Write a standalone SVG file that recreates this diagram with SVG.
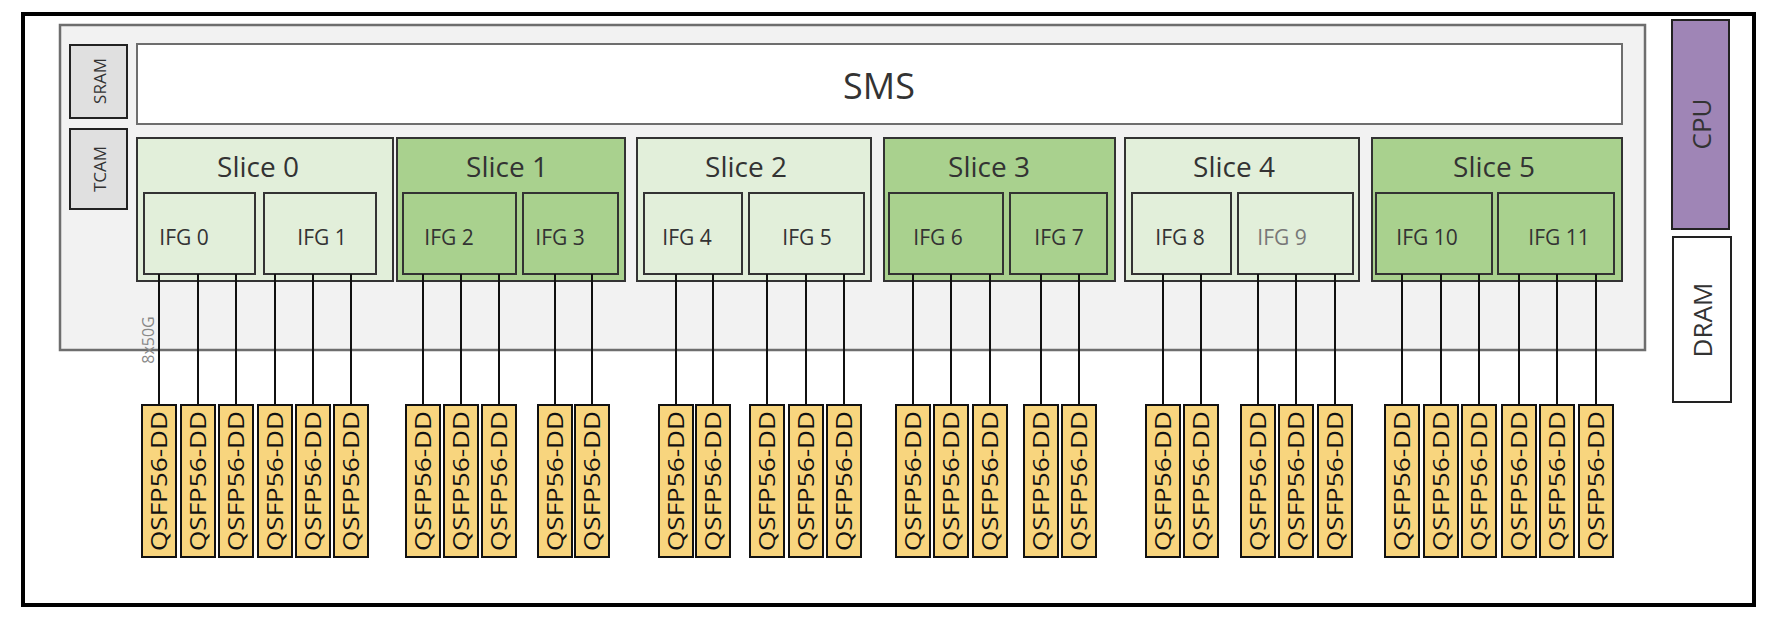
<svg xmlns="http://www.w3.org/2000/svg" width="1772" height="620" viewBox="0 0 1772 620">
<style>
text{font-family:"Open Sans","Noto Sans",sans-serif;fill:#333;text-anchor:middle;dominant-baseline:central}
.lt{fill:#e2efda;stroke:#333;stroke-width:2}
.dk{fill:#a9d18e;stroke:#333;stroke-width:2}
.q{fill:#f8d57e;stroke:#111;stroke-width:2}
.qt{font-size:21px;fill:#111}
.sl{font-size:28px}
.ifg{font-size:21px}
#conn line{stroke:#111;stroke-width:2}
</style>
<rect x="23" y="14" width="1731" height="591" fill="#fff" stroke="#000" stroke-width="4"/>
<g id="asic"><rect x="60" y="25" width="1585" height="325" fill="#f2f2f2" stroke="#6e6e6e" stroke-width="2.5"/></g>
<g id="sram"><rect x="70" y="45" width="57" height="73" fill="#e0e0e0" stroke="#222" stroke-width="2"/><text transform="translate(99,81) rotate(-90)" font-size="17">SRAM</text></g>
<g id="tcam"><rect x="70" y="129" width="57" height="80" fill="#e0e0e0" stroke="#222" stroke-width="2"/><text transform="translate(99,169) rotate(-90)" font-size="17">TCAM</text></g>
<g id="sms"><rect x="137" y="44" width="1485" height="80" fill="#fff" stroke="#6e6e6e" stroke-width="2"/><text x="879" y="85" font-size="36">SMS</text></g>
<g id="slice0"><rect class="lt" x="137" y="138" width="256" height="143"/><text class="sl" x="258" y="166">Slice 0</text></g>
<g id="slice1"><rect class="dk" x="397" y="138" width="228" height="143"/><text class="sl" x="507" y="166">Slice 1</text></g>
<g id="slice2"><rect class="lt" x="637" y="138" width="234" height="143"/><text class="sl" x="746" y="166">Slice 2</text></g>
<g id="slice3"><rect class="dk" x="884" y="138" width="231" height="143"/><text class="sl" x="989" y="166">Slice 3</text></g>
<g id="slice4"><rect class="lt" x="1125" y="138" width="234" height="143"/><text class="sl" x="1234" y="166">Slice 4</text></g>
<g id="slice5"><rect class="dk" x="1372" y="138" width="250" height="143"/><text class="sl" x="1494" y="166">Slice 5</text></g>
<g id="ifg0"><rect class="lt" x="144" y="193" width="111" height="81"/><text class="ifg" x="184" y="237">IFG 0</text></g>
<g id="ifg1"><rect class="lt" x="264" y="193" width="112" height="81"/><text class="ifg" x="322" y="237">IFG 1</text></g>
<g id="ifg2"><rect class="dk" x="403" y="193" width="113" height="81"/><text class="ifg" x="449" y="237">IFG 2</text></g>
<g id="ifg3"><rect class="dk" x="523" y="193" width="95" height="81"/><text class="ifg" x="560" y="237">IFG 3</text></g>
<g id="ifg4"><rect class="lt" x="644" y="193" width="98" height="81"/><text class="ifg" x="687" y="237">IFG 4</text></g>
<g id="ifg5"><rect class="lt" x="749" y="193" width="115" height="81"/><text class="ifg" x="807" y="237">IFG 5</text></g>
<g id="ifg6"><rect class="dk" x="889" y="193" width="114" height="81"/><text class="ifg" x="938" y="237">IFG 6</text></g>
<g id="ifg7"><rect class="dk" x="1010" y="193" width="97" height="81"/><text class="ifg" x="1059" y="237">IFG 7</text></g>
<g id="ifg8"><rect class="lt" x="1132" y="193" width="99" height="81"/><text class="ifg" x="1180" y="237">IFG 8</text></g>
<g id="ifg9"><rect class="lt" x="1238" y="193" width="115" height="81"/><text class="ifg" x="1282" y="237" style="fill:#777">IFG 9</text></g>
<g id="ifg10"><rect class="dk" x="1376" y="193" width="116" height="81"/><text class="ifg" x="1427" y="237">IFG 10</text></g>
<g id="ifg11"><rect class="dk" x="1498" y="193" width="116" height="81"/><text class="ifg" x="1559" y="237">IFG 11</text></g>
<g id="cpu"><rect x="1672" y="20" width="57" height="209" fill="#9f85b6" stroke="#222" stroke-width="2"/><text transform="translate(1701,124) rotate(-90)" font-size="26">CPU</text></g>
<g id="dram"><rect x="1673" y="237" width="58" height="165" fill="#fff" stroke="#222" stroke-width="2"/><text transform="translate(1702,320) rotate(-90)" font-size="26">DRAM</text></g>
<text transform="translate(148,340) rotate(-90)" font-size="16" style="fill:#888">8x50G</text>
<g id="conn">
<line x1="159" y1="274" x2="159" y2="405"/><line x1="198" y1="274" x2="198" y2="405"/><line x1="236" y1="274" x2="236" y2="405"/>
<line x1="275" y1="274" x2="275" y2="405"/><line x1="313" y1="274" x2="313" y2="405"/><line x1="351" y1="274" x2="351" y2="405"/>
<line x1="423" y1="274" x2="423" y2="405"/><line x1="461" y1="274" x2="461" y2="405"/><line x1="499" y1="274" x2="499" y2="405"/>
<line x1="555" y1="274" x2="555" y2="405"/><line x1="592" y1="274" x2="592" y2="405"/>
<line x1="676" y1="274" x2="676" y2="405"/><line x1="713" y1="274" x2="713" y2="405"/>
<line x1="767" y1="274" x2="767" y2="405"/><line x1="806" y1="274" x2="806" y2="405"/><line x1="844" y1="274" x2="844" y2="405"/>
<line x1="913" y1="274" x2="913" y2="405"/><line x1="951" y1="274" x2="951" y2="405"/><line x1="990" y1="274" x2="990" y2="405"/>
<line x1="1041" y1="274" x2="1041" y2="405"/><line x1="1079" y1="274" x2="1079" y2="405"/>
<line x1="1163" y1="274" x2="1163" y2="405"/><line x1="1201" y1="274" x2="1201" y2="405"/>
<line x1="1258" y1="274" x2="1258" y2="405"/><line x1="1296" y1="274" x2="1296" y2="405"/><line x1="1335" y1="274" x2="1335" y2="405"/>
<line x1="1402" y1="274" x2="1402" y2="405"/><line x1="1441" y1="274" x2="1441" y2="405"/><line x1="1479" y1="274" x2="1479" y2="405"/>
<line x1="1519" y1="274" x2="1519" y2="405"/><line x1="1557" y1="274" x2="1557" y2="405"/><line x1="1596" y1="274" x2="1596" y2="405"/>
</g>
<g id="qsfp">
<g id="q1"><rect class="q" x="142" y="405" width="34" height="152"/><text class="qt" transform="translate(159,481) rotate(-90)" textLength="140" lengthAdjust="spacingAndGlyphs">QSFP56-DD</text></g>
<g id="q2"><rect class="q" x="181" y="405" width="34" height="152"/><text class="qt" transform="translate(198,481) rotate(-90)" textLength="140" lengthAdjust="spacingAndGlyphs">QSFP56-DD</text></g>
<g id="q3"><rect class="q" x="219" y="405" width="34" height="152"/><text class="qt" transform="translate(236,481) rotate(-90)" textLength="140" lengthAdjust="spacingAndGlyphs">QSFP56-DD</text></g>
<g id="q4"><rect class="q" x="258" y="405" width="34" height="152"/><text class="qt" transform="translate(275,481) rotate(-90)" textLength="140" lengthAdjust="spacingAndGlyphs">QSFP56-DD</text></g>
<g id="q5"><rect class="q" x="296" y="405" width="34" height="152"/><text class="qt" transform="translate(313,481) rotate(-90)" textLength="140" lengthAdjust="spacingAndGlyphs">QSFP56-DD</text></g>
<g id="q6"><rect class="q" x="334" y="405" width="34" height="152"/><text class="qt" transform="translate(351,481) rotate(-90)" textLength="140" lengthAdjust="spacingAndGlyphs">QSFP56-DD</text></g>
<g id="q7"><rect class="q" x="406" y="405" width="34" height="152"/><text class="qt" transform="translate(423,481) rotate(-90)" textLength="140" lengthAdjust="spacingAndGlyphs">QSFP56-DD</text></g>
<g id="q8"><rect class="q" x="444" y="405" width="34" height="152"/><text class="qt" transform="translate(461,481) rotate(-90)" textLength="140" lengthAdjust="spacingAndGlyphs">QSFP56-DD</text></g>
<g id="q9"><rect class="q" x="482" y="405" width="34" height="152"/><text class="qt" transform="translate(499,481) rotate(-90)" textLength="140" lengthAdjust="spacingAndGlyphs">QSFP56-DD</text></g>
<g id="q10"><rect class="q" x="538" y="405" width="34" height="152"/><text class="qt" transform="translate(555,481) rotate(-90)" textLength="140" lengthAdjust="spacingAndGlyphs">QSFP56-DD</text></g>
<g id="q11"><rect class="q" x="575" y="405" width="34" height="152"/><text class="qt" transform="translate(592,481) rotate(-90)" textLength="140" lengthAdjust="spacingAndGlyphs">QSFP56-DD</text></g>
<g id="q12"><rect class="q" x="659" y="405" width="34" height="152"/><text class="qt" transform="translate(676,481) rotate(-90)" textLength="140" lengthAdjust="spacingAndGlyphs">QSFP56-DD</text></g>
<g id="q13"><rect class="q" x="696" y="405" width="34" height="152"/><text class="qt" transform="translate(713,481) rotate(-90)" textLength="140" lengthAdjust="spacingAndGlyphs">QSFP56-DD</text></g>
<g id="q14"><rect class="q" x="750" y="405" width="34" height="152"/><text class="qt" transform="translate(767,481) rotate(-90)" textLength="140" lengthAdjust="spacingAndGlyphs">QSFP56-DD</text></g>
<g id="q15"><rect class="q" x="789" y="405" width="34" height="152"/><text class="qt" transform="translate(806,481) rotate(-90)" textLength="140" lengthAdjust="spacingAndGlyphs">QSFP56-DD</text></g>
<g id="q16"><rect class="q" x="827" y="405" width="34" height="152"/><text class="qt" transform="translate(844,481) rotate(-90)" textLength="140" lengthAdjust="spacingAndGlyphs">QSFP56-DD</text></g>
<g id="q17"><rect class="q" x="896" y="405" width="34" height="152"/><text class="qt" transform="translate(913,481) rotate(-90)" textLength="140" lengthAdjust="spacingAndGlyphs">QSFP56-DD</text></g>
<g id="q18"><rect class="q" x="934" y="405" width="34" height="152"/><text class="qt" transform="translate(951,481) rotate(-90)" textLength="140" lengthAdjust="spacingAndGlyphs">QSFP56-DD</text></g>
<g id="q19"><rect class="q" x="973" y="405" width="34" height="152"/><text class="qt" transform="translate(990,481) rotate(-90)" textLength="140" lengthAdjust="spacingAndGlyphs">QSFP56-DD</text></g>
<g id="q20"><rect class="q" x="1024" y="405" width="34" height="152"/><text class="qt" transform="translate(1041,481) rotate(-90)" textLength="140" lengthAdjust="spacingAndGlyphs">QSFP56-DD</text></g>
<g id="q21"><rect class="q" x="1062" y="405" width="34" height="152"/><text class="qt" transform="translate(1079,481) rotate(-90)" textLength="140" lengthAdjust="spacingAndGlyphs">QSFP56-DD</text></g>
<g id="q22"><rect class="q" x="1146" y="405" width="34" height="152"/><text class="qt" transform="translate(1163,481) rotate(-90)" textLength="140" lengthAdjust="spacingAndGlyphs">QSFP56-DD</text></g>
<g id="q23"><rect class="q" x="1184" y="405" width="34" height="152"/><text class="qt" transform="translate(1201,481) rotate(-90)" textLength="140" lengthAdjust="spacingAndGlyphs">QSFP56-DD</text></g>
<g id="q24"><rect class="q" x="1241" y="405" width="34" height="152"/><text class="qt" transform="translate(1258,481) rotate(-90)" textLength="140" lengthAdjust="spacingAndGlyphs">QSFP56-DD</text></g>
<g id="q25"><rect class="q" x="1279" y="405" width="34" height="152"/><text class="qt" transform="translate(1296,481) rotate(-90)" textLength="140" lengthAdjust="spacingAndGlyphs">QSFP56-DD</text></g>
<g id="q26"><rect class="q" x="1318" y="405" width="34" height="152"/><text class="qt" transform="translate(1335,481) rotate(-90)" textLength="140" lengthAdjust="spacingAndGlyphs">QSFP56-DD</text></g>
<g id="q27"><rect class="q" x="1385" y="405" width="34" height="152"/><text class="qt" transform="translate(1402,481) rotate(-90)" textLength="140" lengthAdjust="spacingAndGlyphs">QSFP56-DD</text></g>
<g id="q28"><rect class="q" x="1424" y="405" width="34" height="152"/><text class="qt" transform="translate(1441,481) rotate(-90)" textLength="140" lengthAdjust="spacingAndGlyphs">QSFP56-DD</text></g>
<g id="q29"><rect class="q" x="1462" y="405" width="34" height="152"/><text class="qt" transform="translate(1479,481) rotate(-90)" textLength="140" lengthAdjust="spacingAndGlyphs">QSFP56-DD</text></g>
<g id="q30"><rect class="q" x="1502" y="405" width="34" height="152"/><text class="qt" transform="translate(1519,481) rotate(-90)" textLength="140" lengthAdjust="spacingAndGlyphs">QSFP56-DD</text></g>
<g id="q31"><rect class="q" x="1540" y="405" width="34" height="152"/><text class="qt" transform="translate(1557,481) rotate(-90)" textLength="140" lengthAdjust="spacingAndGlyphs">QSFP56-DD</text></g>
<g id="q32"><rect class="q" x="1579" y="405" width="34" height="152"/><text class="qt" transform="translate(1596,481) rotate(-90)" textLength="140" lengthAdjust="spacingAndGlyphs">QSFP56-DD</text></g>
</g>
</svg>
